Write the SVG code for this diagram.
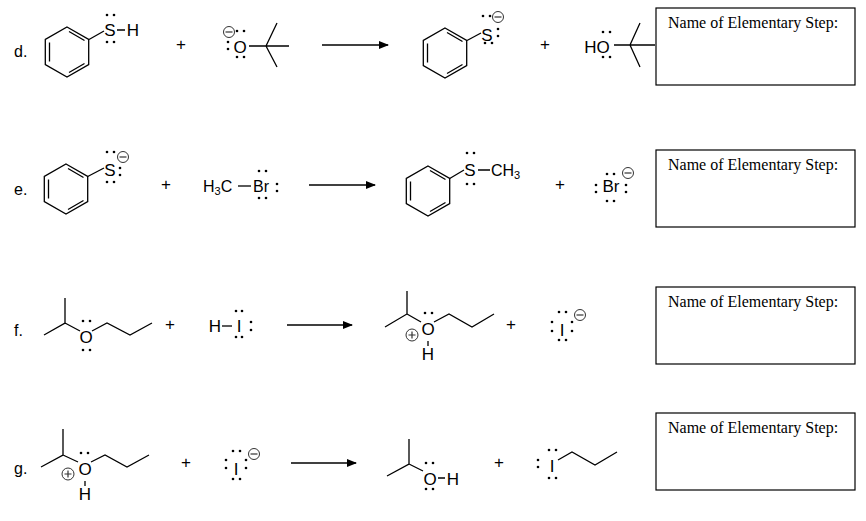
<svg xmlns="http://www.w3.org/2000/svg" width="866" height="521" viewBox="0 0 866 521">
<style>
.b{stroke:#000;stroke-width:1.3;fill:none}
.t{font-family:"Liberation Sans",Arial,sans-serif;font-size:17px;fill:#000;text-anchor:middle}
.l{font-family:"Liberation Sans",Arial,sans-serif;font-size:16px;fill:#000}
.n{font-family:"Liberation Serif","Times New Roman",serif;font-size:16px;fill:#000}
.box{fill:#fff;stroke:#000;stroke-width:1.2}
.c{fill:#fff;stroke:#333;stroke-width:1}
</style>
<defs>
<marker id="ah" markerWidth="10" markerHeight="8" refX="9" refY="4" orient="auto" markerUnits="userSpaceOnUse"><path d="M0,0 L10,4 L0,8 z" fill="#000"/></marker>
<g id="bz" class="b"><path d="M0,-25 L21.7,-12.5 L21.7,12.5 L0,25 L-21.7,12.5 L-21.7,-12.5 Z"/><path d="M-17.5,-9.5 L-17.5,9.5 M2,-20.5 L17.5,-11.5 M2,20.5 L17.5,11.5"/></g>
<g id="dot"><circle r="1.3" fill="#000"/></g>
<g id="minus"><circle r="5.5" class="c"/><path d="M-3.5,0 H3.5" stroke="#333" stroke-width="1.2"/></g>
<g id="plus"><circle r="6" class="c"/><path d="M-3.5,0 H3.5 M0,-3.5 V3.5" stroke="#333" stroke-width="1.2"/></g>
</defs>

<!-- Row d -->
<g id="row-d">
<text class="l" x="14" y="57">d.</text>
<use href="#bz" x="67" y="52"/>
<path class="b" d="M89,39.5 L104,31 M117,30 H125"/>
<text class="t" x="110" y="36">S</text><text class="t" x="133" y="36">H</text>
<use href="#dot" x="107" y="15"/><use href="#dot" x="114" y="15"/><use href="#dot" x="107" y="42"/><use href="#dot" x="114" y="42"/>
<text class="t" x="181" y="50">+</text>
<use href="#minus" x="229" y="32"/>
<text class="t" x="240" y="53">O</text>
<use href="#dot" x="237" y="31"/><use href="#dot" x="244" y="31"/><use href="#dot" x="228" y="42"/><use href="#dot" x="228" y="49"/><use href="#dot" x="237" y="57"/><use href="#dot" x="244" y="57"/>
<path class="b" d="M249,46 H289 M266,46 L277,23 M266,46 L277,67"/>
<path class="b" d="M322,45 H388" marker-end="url(#ah)"/>
<use href="#bz" x="445" y="53"/>
<path class="b" d="M467,40.5 L481,33"/>
<text class="t" x="487" y="41">S</text>
<use href="#minus" x="498" y="17"/>
<use href="#dot" x="483" y="16"/><use href="#dot" x="490" y="16"/><use href="#dot" x="498" y="29"/><use href="#dot" x="498" y="36"/><use href="#dot" x="485" y="43"/><use href="#dot" x="492" y="43"/>
<text class="t" x="545" y="50">+</text>
<text class="t" x="597" y="53">HO</text>
<use href="#dot" x="603" y="32"/><use href="#dot" x="610" y="32"/><use href="#dot" x="603" y="57"/><use href="#dot" x="610" y="57"/>
<path class="b" d="M614,45 H655 M630,45 L640,23 M630,45 L640,67"/>
</g>
<g id="box-d"><rect class="box" x="656" y="8" width="199" height="77"/><text class="n" x="668" y="28">Name of Elementary Step:</text></g>

<!-- Row e -->
<g id="row-e">
<text class="l" x="14" y="195">e.</text>
<use href="#bz" x="66" y="189"/>
<path class="b" d="M87.7,176.5 L104,168"/>
<text class="t" x="110" y="176">S</text>
<use href="#minus" x="123" y="157"/>
<use href="#dot" x="107" y="152"/><use href="#dot" x="114" y="152"/><use href="#dot" x="120" y="168"/><use href="#dot" x="120" y="175"/><use href="#dot" x="107" y="182"/><use href="#dot" x="114" y="182"/>
<text class="t" x="166" y="190">+</text>
<text class="l" x="203" y="192">H<tspan font-size="11" dy="3">3</tspan><tspan dy="-3">C</tspan></text>
<path class="b" d="M238,186 H251"/>
<text class="l" x="253" y="192">Br</text>
<use href="#dot" x="259" y="171"/><use href="#dot" x="266" y="171"/><use href="#dot" x="259" y="198"/><use href="#dot" x="266" y="198"/><use href="#dot" x="277" y="184"/><use href="#dot" x="277" y="191"/>
<path class="b" d="M309,185 H375" marker-end="url(#ah)"/>
<use href="#bz" x="428" y="191"/>
<path class="b" d="M449.7,178.5 L464,170 M478,170 H490"/>
<text class="t" x="470" y="176">S</text>
<text class="l" x="491" y="176">CH<tspan font-size="11" dy="3">3</tspan></text>
<use href="#dot" x="467" y="153"/><use href="#dot" x="474" y="153"/><use href="#dot" x="467" y="184"/><use href="#dot" x="474" y="184"/>
<text class="t" x="560" y="190">+</text>
<text class="t" x="611" y="192">Br</text>
<use href="#minus" x="628" y="173"/>
<use href="#dot" x="607" y="174"/><use href="#dot" x="614" y="174"/><use href="#dot" x="607" y="201"/><use href="#dot" x="614" y="201"/><use href="#dot" x="596" y="185"/><use href="#dot" x="596" y="192"/><use href="#dot" x="626" y="185"/><use href="#dot" x="626" y="192"/>
</g>
<g id="box-e"><rect class="box" x="656" y="150" width="199" height="77"/><text class="n" x="668" y="170">Name of Elementary Step:</text></g>

<!-- Row f -->
<g id="row-f">
<text class="l" x="14" y="336">f.</text>
<path class="b" d="M44,335 L65,323 L65,298 M65,323 L80,331 M92,331 L107,323 L130,335 L152,323"/>
<text class="t" x="86" y="343">O</text>
<use href="#dot" x="83" y="321"/><use href="#dot" x="90" y="321"/><use href="#dot" x="83" y="350"/><use href="#dot" x="90" y="350"/>
<text class="t" x="170" y="330">+</text>
<text class="t" x="215" y="332">H</text>
<path class="b" d="M222,326 H232"/>
<text class="t" x="239" y="332">I</text>
<use href="#dot" x="236" y="311"/><use href="#dot" x="242" y="311"/><use href="#dot" x="236" y="337"/><use href="#dot" x="242" y="337"/><use href="#dot" x="251" y="322"/><use href="#dot" x="251" y="330"/>
<path class="b" d="M287,325 H352" marker-end="url(#ah)"/>
<path class="b" d="M385,327 L407,314 L407,291 M407,314 L421,322 M434,322 L449,314 L472,327 L494,314 M428,341 V346"/>
<text class="t" x="428" y="335">O</text>
<text class="t" x="428" y="360">H</text>
<use href="#plus" x="412" y="335"/>
<use href="#dot" x="425" y="313"/><use href="#dot" x="432" y="313"/>
<text class="t" x="511" y="330">+</text>
<text class="t" x="562" y="336">I</text>
<use href="#minus" x="580" y="315"/>
<use href="#dot" x="559" y="312"/><use href="#dot" x="566" y="312"/><use href="#dot" x="559" y="340"/><use href="#dot" x="566" y="340"/><use href="#dot" x="552" y="322"/><use href="#dot" x="552" y="331"/><use href="#dot" x="572" y="322"/><use href="#dot" x="572" y="331"/>
</g>
<g id="box-f"><rect class="box" x="656" y="287" width="199" height="77"/><text class="n" x="668" y="307">Name of Elementary Step:</text></g>

<!-- Row g -->
<g id="row-g">
<text class="l" x="14" y="474">g.</text>
<path class="b" d="M41,467 L63,455 L63,429 M63,455 L78,462 M91,462 L105,455 L127,467 L149,455 M85,481 V486"/>
<text class="t" x="85" y="475">O</text>
<text class="t" x="85" y="500">H</text>
<use href="#plus" x="68" y="474"/>
<use href="#dot" x="81" y="453"/><use href="#dot" x="88" y="453"/>
<text class="t" x="186" y="468">+</text>
<text class="t" x="236" y="475">I</text>
<use href="#minus" x="254" y="454"/>
<use href="#dot" x="233" y="451"/><use href="#dot" x="240" y="451"/><use href="#dot" x="233" y="479"/><use href="#dot" x="240" y="479"/><use href="#dot" x="226" y="460"/><use href="#dot" x="226" y="468"/><use href="#dot" x="246" y="460"/><use href="#dot" x="246" y="468"/>
<path class="b" d="M291,463 H356" marker-end="url(#ah)"/>
<path class="b" d="M387,476 L409,464 L409,439 M409,464 L423,471 M438,478 H445"/>
<text class="t" x="430" y="485">O</text>
<text class="t" x="453" y="485">H</text>
<use href="#dot" x="426" y="463"/><use href="#dot" x="433" y="463"/><use href="#dot" x="426" y="489"/><use href="#dot" x="433" y="489"/>
<text class="t" x="499" y="468">+</text>
<text class="t" x="552" y="472">I</text>
<path class="b" d="M558,460 L572,452 L595,465 L617,452"/>
<use href="#dot" x="549" y="450"/><use href="#dot" x="556" y="450"/><use href="#dot" x="549" y="478"/><use href="#dot" x="556" y="478"/><use href="#dot" x="538" y="460"/><use href="#dot" x="538" y="467"/>
</g>
<g id="box-g"><rect class="box" x="656" y="413" width="199" height="77"/><text class="n" x="668" y="433">Name of Elementary Step:</text></g>
</svg>
